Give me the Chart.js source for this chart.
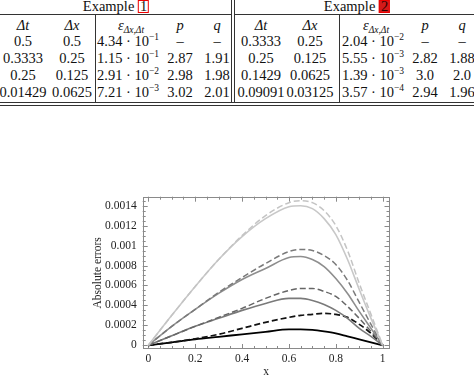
<!DOCTYPE html>
<html>
<head>
<meta charset="utf-8">
<script src="https://cdn.jsdelivr.net/npm/chart.js@4/dist/chart.umd.min.js"></script>
<style>
  html, body { margin:0; padding:0; background:#fff; }
  #page { position:relative; width:474px; height:379px; overflow:hidden; background:#fff; }
  .t { position:absolute; font-family:"Liberation Serif", "Times New Roman", serif; font-size:14.5px; line-height:16px; color:#111; white-space:nowrap; }
  .c { transform:translateX(-50%); }
  .hl { position:absolute; height:1px; background:#333; }
  .vl { position:absolute; width:1px; background:#333; }
  .ref { border:1.5px solid #e00; padding:0 1px; line-height:11px; display:inline-block; }
  .ref2 { background:#d41a1a; color:#300; }
  sup { font-size:9.5px; vertical-align:0; position:relative; top:-6px; }
  sub { font-size:9.5px; vertical-align:0; position:relative; top:3px; }
  #chartWrap { position:absolute; left:0; top:180px; width:474px; height:199px; }
</style>
</head>
<body>
<div id="page">
  <div id="table"></div>
  <div id="chartWrap"><canvas id="chart" width="474" height="199"></canvas></div>
</div>
<script>
// ---------- table data ----------
const ex1Dt  = ["0.5", "0.3333", "0.25", "0.01429"];
const ex1Dx  = ["0.5", "0.25", "0.125", "0.0625"];
const ex1ErrM = ["4.34", "1.15", "2.91", "7.21"];
const ex1ErrE = ["−1", "−1", "−2", "−3"];
const ex1P   = ["–", "2.87", "2.98", "3.02"];
const ex1Q   = ["–", "1.91", "1.98", "2.01"];

const ex2Dt  = ["0.3333", "0.25", "0.1429", "0.09091"];
const ex2Dx  = ["0.25", "0.125", "0.0625", "0.03125"];
const ex2ErrM = ["2.04", "5.55", "1.39", "3.57"];
const ex2ErrE = ["−2", "−3", "−3", "−4"];
const ex2P   = ["–", "2.82", "3.0", "2.94"];
const ex2Q   = ["–", "1.88", "2.0", "1.96"];

// ---------- chart data ----------
const xValues = [0, 0.1, 0.2, 0.3, 0.4, 0.5, 0.6, 0.65, 0.7, 0.75, 0.8, 0.85, 0.9, 0.95, 1];
const lightSolid  = [0, 0.00030, 0.00059, 0.00086, 0.00109, 0.00127, 0.00139, 0.00140, 0.00137, 0.00127, 0.00111, 0.00086, 0.00056, 0.00027, 0];
const lightDashed = [0, 0.00030, 0.00059, 0.00086, 0.00110, 0.00130, 0.00143, 0.00145, 0.00143, 0.00135, 0.00120, 0.00095, 0.00062, 0.00031, 0];
const midSolid    = [0, 0.00019, 0.00036, 0.00052, 0.00066, 0.00077, 0.00088, 0.00089, 0.00086, 0.00079, 0.00067, 0.00052, 0.00034, 0.00017, 0];
const midDashed   = [0, 0.00019, 0.00036, 0.00053, 0.00068, 0.00082, 0.00094, 0.00096, 0.00095, 0.00090, 0.00081, 0.00065, 0.00043, 0.00021, 0];
const darkSolid   = [0, 0.000095, 0.00019, 0.00027, 0.00035, 0.00042, 0.00047, 0.00047, 0.00045, 0.00041, 0.00035, 0.00027, 0.00017, 0.00009, 0];
const darkDashed  = [0, 0.000095, 0.00019, 0.00028, 0.00037, 0.00047, 0.00055, 0.00057, 0.00057, 0.00054, 0.00049, 0.00039, 0.00027, 0.00014, 0];
const blackSolid  = [0, 0.00003, 0.00006, 0.000085, 0.00011, 0.000135, 0.00016, 0.00016, 0.000155, 0.00014, 0.00012, 0.00009, 0.00006, 0.00003, 0];
const blackDashed = [0, 0.00003, 0.000065, 0.00011, 0.00017, 0.00023, 0.00028, 0.00030, 0.00031, 0.00032, 0.00031, 0.00028, 0.00021, 0.00012, 0];

const xTickValues = [0, 0.2, 0.4, 0.6, 0.8, 1];
const xTickLabels = ["0", "0.2", "0.4", "0.6", "0.8", "1"];
const yTickValues = [0, 0.0002, 0.0004, 0.0006, 0.0008, 0.001, 0.0012, 0.0014];
const yTickLabels = ["0", "0.0002", "0.0004", "0.0006", "0.0008", "0.001", "0.0012", "0.0014"];
const xAxisTitle = "x";
const yAxisTitle = "Absolute errors";

// ---------- build table ----------
const tbl = document.getElementById('table');
function txt(html, x, cy, center) {
  const d = document.createElement('div');
  d.className = 't' + (center ? ' c' : '');
  d.style.left = x + 'px';
  d.style.top = (cy - 8) + 'px';
  d.innerHTML = html;
  tbl.appendChild(d);
}
function line(cls, x, y, len) {
  const d = document.createElement('div');
  d.className = cls;
  d.style.left = x + 'px';
  d.style.top = y + 'px';
  if (cls === 'hl') d.style.width = len + 'px'; else d.style.height = len + 'px';
  tbl.appendChild(d);
}
const rowY = [41, 58, 75, 91.7];
function half(o, num, refCls, dt, dx, em, ee, p, q, headerX) {
  txt('Example <span class="ref ' + refCls + '">' + num + '</span>', headerX, 6, true);
  txt('<i>Δt</i>', o.c1, 25, true);
  txt('<i>Δx</i>', o.c2, 25, true);
  txt('<i>ε</i><sub><i>Δx</i>,<i>Δt</i></sub>', o.eh, 25, true);
  txt('<i>p</i>', o.p, 25, true);
  txt('<i>q</i>', o.q, 25, true);
  for (let i = 0; i < 4; i++) {
    txt(dt[i], o.c1, rowY[i], true);
    txt(dx[i], o.c2, rowY[i], true);
    txt(em[i] + ' · 10<sup>' + ee[i] + '</sup>', o.el, rowY[i], false);
    txt(p[i], o.p, rowY[i], true);
    txt(q[i], o.q, rowY[i], true);
  }
}
half({c1:23, c2:72, eh:131, el:97, p:180, q:217}, "1", "", ex1Dt, ex1Dx, ex1ErrM, ex1ErrE, ex1P, ex1Q, 116);
half({c1:261, c2:310, eh:376, el:342, p:425, q:462}, "2", "ref2", ex2Dt, ex2Dx, ex2ErrM, ex2ErrE, ex2P, ex2Q, 357);
line('hl', 0, 14, 231);
line('hl', 235, 14, 239);
line('hl', 0, 102, 474);
line('hl', 0, 105, 474);
line('vl', 95, 14, 88);
line('vl', 339, 14, 88);
line('vl', 231, 0, 102);
line('vl', 234, 0, 102);

// ---------- chart ----------
const pts = arr => xValues.map((x, i) => ({x: x, y: arr[i]}));
function ds(arr, color, dashed, width) {
  return {
    data: pts(arr),
    borderColor: color,
    borderWidth: width,
    borderDash: dashed ? [6, 3] : [],
    pointRadius: 0,
    fill: false,
    cubicInterpolationMode: 'monotone'
  };
}

const framePlugin = {
  id: 'frame',
  beforeDatasetsDraw(chart) {
    const {ctx, chartArea: a, scales: {x, y}} = chart;
    ctx.save();
    ctx.strokeStyle = '#8a8a8a';
    ctx.lineWidth = 1;
    ctx.strokeRect(Math.round(a.left) + 0.5, Math.round(a.top) + 0.5, Math.round(a.width) - 1, Math.round(a.height) - 1);
    ctx.beginPath();
    const xs = (xTickValues[1] - xTickValues[0]) / 4;
    for (let k = Math.ceil(x.min / xs); k * xs <= x.max + 1e-9; k++) {
      const v = k * xs;
      const px = Math.round(x.getPixelForValue(v)) + 0.5;
      const len = (k % 4 === 0) ? 5 : 3;
      ctx.moveTo(px, a.bottom); ctx.lineTo(px, a.bottom - len);
      ctx.moveTo(px, a.top); ctx.lineTo(px, a.top + len);
    }
    const ys = (yTickValues[1] - yTickValues[0]) / 4;
    for (let k = Math.ceil(y.min / ys); k * ys <= y.max + 1e-12; k++) {
      const v = k * ys;
      const py = Math.round(y.getPixelForValue(v)) + 0.5;
      const len = (k % 4 === 0) ? 5 : 3;
      ctx.moveTo(a.left, py); ctx.lineTo(a.left + len, py);
      ctx.moveTo(a.right, py); ctx.lineTo(a.right - len, py);
    }
    ctx.stroke();
    ctx.restore();
  }
};

const font = {family: '"Liberation Serif", "Times New Roman", serif', size: 11.5};
new Chart(document.getElementById('chart'), {
  type: 'line',
  data: {
    datasets: [
      ds(lightDashed, '#c4c4c4', true, 1.5),
      ds(lightSolid,  '#c8c8c8', false, 1.6),
      ds(midDashed,   '#7a7a7a', true, 1.5),
      ds(midSolid,    '#8e8e8e', false, 1.6),
      ds(darkDashed,  '#666666', true, 1.5),
      ds(darkSolid,   '#7a7a7a', false, 1.6),
      ds(blackDashed, '#111111', true, 1.7),
      ds(blackSolid,  '#000000', false, 1.8)
    ]
  },
  options: {
    responsive: false,
    animation: false,
    devicePixelRatio: 1,
    layout: {padding: {left: 91, top: 16.7, right: 84.5, bottom: 0}},
    plugins: {legend: {display: false}, tooltip: {enabled: false}},
    scales: {
      x: {
        type: 'linear',
        min: -0.024,
        max: 1.029,
        grid: {display: false, drawTicks: false},
        border: {display: false},
        afterBuildTicks: s => { s.ticks = xTickValues.map(v => ({value: v})); },
        afterFit: s => { s.height = 30; },
        ticks: {
          padding: 3,
          color: '#222',
          font: font,
          maxRotation: 0,
          autoSkip: false,
          callback: v => { const i = xTickValues.findIndex(t => Math.abs(t - v) < 1e-9); return i >= 0 ? xTickLabels[i] : ''; }
        },
        title: {display: true, text: xAxisTitle, color: '#222', font: font, padding: {top: 0, bottom: 0}}
      },
      y: {
        type: 'linear',
        min: -0.0000372,
        max: 0.00149,
        grid: {display: false, drawTicks: false},
        border: {display: false},
        afterBuildTicks: s => { s.ticks = yTickValues.map(v => ({value: v})); },
        afterFit: s => { s.width = 51.7; },
        ticks: {
          padding: 6,
          color: '#222',
          font: font,
          autoSkip: false,
          callback: v => { const i = yTickValues.findIndex(t => Math.abs(t - v) < 1e-12); return i >= 0 ? yTickLabels[i] : ''; }
        },
        title: {display: true, text: yAxisTitle, color: '#222', font: font, padding: {top: 0, bottom: 0}}
      }
    }
  },
  plugins: [framePlugin]
});
</script>
</body>
</html>
